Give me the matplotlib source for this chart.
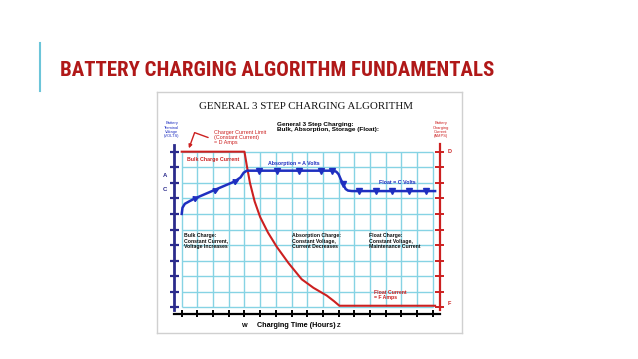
import numpy as np
import matplotlib
matplotlib.use("Agg")
import matplotlib.pyplot as plt
from matplotlib import font_manager

# ---------------- data (grid units) ----------------
grid_x = list(range(0, 17))
grid_y = list(range(0, 11))

voltage_x = [0.0, 0.05, 0.2, 0.5, 0.85, 2.12, 3.4, 3.75, 3.95, 4.15, 9.6, 9.85, 10.0, 10.15,
             10.3, 10.45, 10.6, 10.85, 16.15]
voltage_y = [6.0, 6.4, 6.65, 6.82, 7.0, 7.55, 8.1, 8.35, 8.65, 8.78, 8.78, 8.72, 8.55, 8.2,
             7.9, 7.6, 7.5, 7.47, 7.47]

bulk_marker_x = [0.85, 2.12, 3.4]
abs_marker_x = [4.9, 6.05, 7.45, 8.85, 9.6, 10.3]
float_marker_x = [11.3, 12.4, 13.4, 14.5, 15.55]

current_x = [0.0, 4.0, 4.15, 4.35, 4.65, 5.0, 5.5, 6.05, 6.8, 7.65, 8.4, 9.25, 9.7, 10.05, 16.15]
current_y = [10.0, 10.0, 9.1, 8.0, 6.8, 5.8, 4.8, 3.9, 2.85, 1.8, 1.25, 0.75, 0.4, 0.1, 0.1]

time_labels = {"W": 4, "Z": 10}
volt_labels = {"A": 8.5, "C": 7.58}
amp_labels = {"D": 10.0, "F": 0.26}

slide_title = "BATTERY CHARGING ALGORITHM FUNDAMENTALS"
chart_title = "GENERAL 3 STEP CHARGING ALGORITHM"

BLUE = "#1f2fc0"
NAVY = "#2b2b8c"
RED = "#cc2020"
GRIDC = "#86d3e4"
SANS = ["Liberation Sans", "DejaVu Sans"]

W, H = 638, 359
fig = plt.figure(figsize=(W / 100, H / 100), dpi=100)
fig.patch.set_facecolor("white")

# slide decorations
fig.add_artist(plt.Line2D([40 / W, 40 / W], [1 - 43 / H, 1 - 91 / H], color="#6cc5d9", lw=1.5))

# choose a condensed bold face if one is installed
names = {f.name for f in font_manager.fontManager.ttflist}
cond = [f for f in font_manager.fontManager.ttflist
        if f.weight in ("bold", 700) and str(f.stretch) in ("condensed", "semi-condensed", "extra-condensed", "500", "75", "62.5")]
title_family = None
for cand in ["Roboto Condensed", "Open Sans Condensed", "Liberation Sans Narrow", "Noto Sans Condensed"]:
    if cand in names:
        title_family = cand
        break
title_kwargs = dict(color="#b01818", fontweight="bold", va="center", ha="left")
if title_family:
    title_kwargs["family"] = [title_family, "DejaVu Sans"]
else:
    title_kwargs["family"] = ["DejaVu Sans"]
    title_kwargs["fontstretch"] = "condensed"
t = fig.text(60 / W, 1 - 70 / H, slide_title, fontsize=15, **title_kwargs)
r = fig.canvas.get_renderer()
wpx = t.get_window_extent(r).width
if wpx > 436:
    t.set_fontsize(15 * 436 / wpx)

# chart axes covering the embedded picture frame
x0px, unitx = 181.7, 15.69
y0px, unity = 307.3, 15.56
fl, fr, ft, fb = 156.7, 462.3, 92.3, 333.0
ax = fig.add_axes([fl / W, 1 - fb / H, (fr - fl) / W, (fb - ft) / H])
ax.set_xlim((fl - x0px) / unitx, (fr - x0px) / unitx)
ax.set_ylim((y0px - fb) / unity, (y0px - ft) / unity)
ax.set_xticks([]); ax.set_yticks([])
for s in ax.spines.values():
    s.set_color("#d0d0d0"); s.set_linewidth(1.0)

# grid
ax.vlines(grid_x, grid_y[0], grid_y[-1], color=GRIDC, lw=1.0, zorder=1)
ax.hlines(grid_y, grid_x[0], grid_x[-1], color=GRIDC, lw=1.0, zorder=1)

# axes lines
ax.plot([-0.47, -0.47], [-0.17, 10.4], color=NAVY, lw=2, zorder=3)
ax.hlines(grid_y, -0.75, -0.15, color=NAVY, lw=1.6, zorder=3)
ax.plot([-0.47, 16.46], [-0.4, -0.4], color="black", lw=1.6, zorder=3)
ax.vlines(grid_x, -0.64, -0.17, color="black", lw=1.4, zorder=3)
ax.plot([16.46, 16.46], [-0.17, 10.5], color=RED, lw=1.6, zorder=3)
ax.hlines(grid_y, 16.15, 16.74, color=RED, lw=1.4, zorder=3)

# current curve
ax.plot(current_x, current_y, color=RED, lw=1.5, zorder=4)

# voltage curve
ax.plot(voltage_x, voltage_y, color=BLUE, lw=1.8, zorder=5)
bmy = np.interp(bulk_marker_x, voltage_x, voltage_y)
ax.plot(bulk_marker_x, bmy, ls="none", marker=(3, 0, -66), ms=4.5, color=BLUE, zorder=6)
amy = np.interp(abs_marker_x, voltage_x, voltage_y)
ax.plot(abs_marker_x, amy, ls="none", marker="v", ms=4.5, color=BLUE, zorder=6)
fmy = np.interp(float_marker_x, voltage_x, voltage_y)
ax.plot(float_marker_x, fmy, ls="none", marker="v", ms=4.5, color=BLUE, zorder=6)

# texts
ax.text(7.91, 12.92, chart_title, family=["Liberation Serif", "DejaVu Serif"], fontsize=7.8,
        ha="center", va="center", color="#111111")
ax.text(-0.62, 11.95, "Battery\nTerminal\nVoltage\n(VOLTS)", color=BLUE, fontsize=2.9,
        family=SANS, ha="center", va="top", linespacing=1.05)
ax.text(16.5, 11.95, "Battery\nCharging\nCurrent\n(AMPS)", color=RED, fontsize=2.9,
        family=SANS, ha="center", va="top", linespacing=1.05)
ax.text(2.08, 11.4, "Charger Current Limit\n(Constant Current)\n= D Amps", color=RED,
        fontsize=3.9, family=SANS, ha="left", va="top", linespacing=0.95)
ax.annotate("", xy=(0.4, 10.05), xytext=(1.85, 10.85),
            arrowprops=dict(arrowstyle="-|>", color=RED, lw=1.0, mutation_scale=5,
                            connectionstyle="angle,angleA=160,angleB=70,rad=0"))
ax.text(6.05, 11.9, "General 3 Step Charging:\nBulk, Absorption, Storage (Float):",
        color="black", fontsize=4.6, family=SANS, fontweight="bold", ha="left", va="top",
        linespacing=1.0)
ax.text(0.32, 9.53, "Bulk Charge Current", color=RED, fontsize=3.8, family=SANS,
        fontweight="bold", ha="left", va="center")
ax.text(7.16, 9.21, "Absorption = A Volts", color=BLUE, fontsize=3.8, family=SANS,
        fontweight="bold", ha="center", va="center")
ax.text(13.72, 8.0, "Float = C Volts", color=BLUE, fontsize=3.8, family=SANS,
        fontweight="bold", ha="center", va="center")
for k, v in volt_labels.items():
    ax.text(-1.06, v, k, color=NAVY, fontsize=4.3, family=SANS, fontweight="bold",
            ha="center", va="center")
for k, v in amp_labels.items():
    ax.text(17.08, v, k, color=RED, fontsize=4.0, family=SANS, fontweight="bold",
            ha="center", va="center")
phase_texts = [(0.17, "Bulk Charge:\nConstant Current,\nVoltage Increases"),
               (7.01, "Absorption Charge:\nConstant Voltage,\nCurrent Decreases"),
               (11.96, "Float Charge:\nConstant Voltage,\nMaintenance Current")]
for xx, s in phase_texts:
    ax.text(xx, 4.75, s, color="#111111", fontsize=3.7, family=SANS, fontweight="bold",
            ha="left", va="top", linespacing=1.05)
ax.text(12.26, 1.1, "Float Current\n= F Amps", color=RED, fontsize=3.7, family=SANS,
        fontweight="bold", ha="left", va="top", linespacing=1.0)
for k, v in time_labels.items():
    ax.text(v, -1.2, k, color="black", fontsize=4.3, family=SANS, fontweight="bold",
            ha="center", va="center")
ax.text(7.3, -1.2, "Charging Time (Hours)", color="black", fontsize=5.2, family=SANS,
        fontweight="bold", ha="center", va="center")

fig.savefig("out.png", dpi=100, facecolor="white")
